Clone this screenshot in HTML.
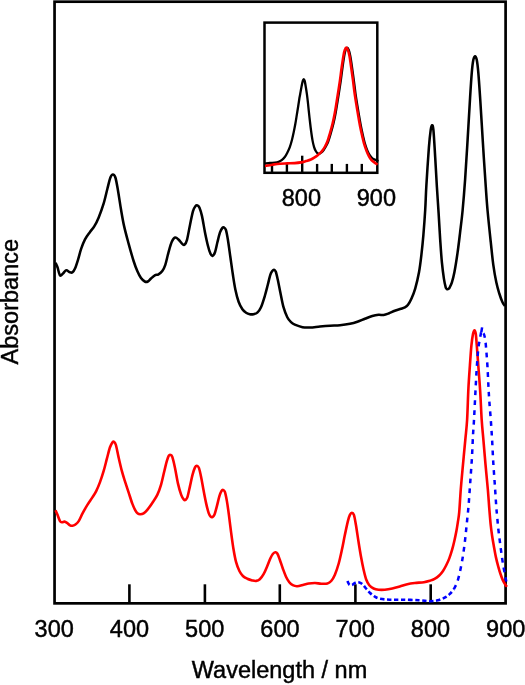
<!DOCTYPE html>
<html><head><meta charset="utf-8"><title>Absorbance spectra</title>
<style>
html,body{margin:0;padding:0;background:#fff;}
svg{display:block;}
text{font-family:"Liberation Sans",Arial,Helvetica,sans-serif;fill:#000;}
</style></head><body>
<svg width="525" height="685" viewBox="0 0 525 685">
<rect x="0" y="0" width="525" height="685" fill="#fff"/>
<g stroke="#000" stroke-width="2.6" fill="none"><line x1="129.40" y1="603.4" x2="129.40" y2="584.3"/><line x1="204.90" y1="603.4" x2="204.90" y2="584.3"/><line x1="279.80" y1="603.4" x2="279.80" y2="584.3"/><line x1="355.40" y1="603.4" x2="355.40" y2="584.3"/><line x1="430.70" y1="603.4" x2="430.70" y2="584.3"/></g>
<rect x="54.55" y="1.7" width="451.05" height="601.65" fill="none" stroke="#000" stroke-width="2.7"/>
<g fill="none" stroke-linejoin="round" stroke-linecap="butt">
<path d="M55.50 262.80C55.83 263.55 56.75 265.22 57.50 267.30C58.25 269.38 59.08 274.27 60.00 275.30C60.92 276.33 61.97 274.33 63.00 273.50C64.03 272.67 65.03 270.50 66.20 270.30C67.37 270.10 68.95 271.97 70.00 272.30C71.05 272.63 71.67 272.93 72.50 272.30C73.33 271.67 74.08 270.58 75.00 268.50C75.92 266.42 76.97 263.12 78.00 259.80C79.03 256.48 80.03 252.02 81.20 248.60C82.37 245.18 83.53 242.08 85.00 239.30C86.47 236.52 88.43 234.10 90.00 231.90C91.57 229.70 92.95 228.52 94.40 226.10C95.85 223.68 97.17 221.13 98.70 217.40C100.23 213.67 102.15 208.48 103.60 203.70C105.05 198.92 106.27 193.07 107.40 188.70C108.53 184.33 109.48 179.87 110.40 177.50C111.32 175.13 112.07 174.50 112.90 174.50C113.73 174.50 114.57 174.92 115.40 177.50C116.23 180.08 116.95 184.58 117.90 190.00C118.85 195.42 120.07 203.98 121.10 210.00C122.13 216.02 122.85 220.50 124.10 226.10C125.35 231.70 127.02 237.78 128.60 243.60C130.18 249.42 132.15 256.43 133.60 261.00C135.05 265.57 136.07 268.17 137.30 271.00C138.53 273.83 139.75 276.25 141.00 278.00C142.25 279.75 143.67 280.92 144.80 281.50C145.93 282.08 146.77 282.00 147.80 281.50C148.83 281.00 149.83 279.53 151.00 278.50C152.17 277.47 153.55 276.00 154.80 275.30C156.05 274.60 157.25 275.02 158.50 274.30C159.75 273.58 161.17 272.58 162.30 271.00C163.43 269.42 164.27 267.92 165.30 264.80C166.33 261.68 167.42 256.13 168.50 252.30C169.58 248.47 170.68 244.25 171.80 241.80C172.92 239.35 174.05 237.93 175.20 237.60C176.35 237.27 177.57 238.80 178.70 239.80C179.83 240.80 181.03 242.77 182.00 243.60C182.97 244.43 183.67 245.43 184.50 244.80C185.33 244.17 186.08 243.12 187.00 239.80C187.92 236.48 189.00 229.68 190.00 224.90C191.00 220.12 192.10 214.22 193.00 211.10C193.90 207.98 194.67 207.15 195.40 206.20C196.13 205.25 196.73 205.20 197.40 205.40C198.07 205.60 198.63 205.62 199.40 207.40C200.17 209.18 201.07 211.93 202.00 216.10C202.93 220.27 204.00 227.42 205.00 232.40C206.00 237.38 207.10 242.47 208.00 246.00C208.90 249.53 209.67 251.93 210.40 253.60C211.13 255.27 211.63 256.22 212.40 256.00C213.17 255.78 214.17 254.58 215.00 252.30C215.83 250.02 216.57 245.62 217.40 242.30C218.23 238.98 219.17 234.80 220.00 232.40C220.83 230.00 221.75 228.73 222.40 227.90C223.05 227.07 223.32 227.07 223.90 227.40C224.48 227.73 225.23 227.83 225.90 229.90C226.57 231.97 227.15 235.23 227.90 239.80C228.65 244.37 229.57 251.47 230.40 257.30C231.23 263.13 232.07 269.40 232.90 274.80C233.73 280.20 234.45 285.22 235.40 289.70C236.35 294.18 237.43 298.45 238.60 301.70C239.77 304.95 241.15 307.37 242.40 309.20C243.65 311.03 244.87 311.87 246.10 312.70C247.33 313.53 248.55 313.95 249.80 314.20C251.05 314.45 252.35 314.45 253.60 314.20C254.85 313.95 256.07 313.87 257.30 312.70C258.53 311.53 259.75 309.98 261.00 307.20C262.25 304.42 263.67 299.73 264.80 296.00C265.93 292.27 266.88 288.33 267.80 284.80C268.72 281.27 269.55 277.10 270.30 274.80C271.05 272.50 271.68 271.83 272.30 271.00C272.92 270.17 273.42 269.67 274.00 269.80C274.58 269.93 275.17 270.13 275.80 271.80C276.43 273.47 277.05 276.40 277.80 279.80C278.55 283.20 279.35 287.63 280.30 292.20C281.25 296.77 282.33 303.03 283.50 307.20C284.67 311.37 286.05 314.70 287.30 317.20C288.55 319.70 289.75 320.95 291.00 322.20C292.25 323.45 292.88 323.87 294.80 324.70C296.72 325.53 299.97 326.73 302.50 327.20C305.03 327.67 307.08 327.62 310.00 327.50C312.92 327.38 316.67 326.80 320.00 326.50C323.33 326.20 326.67 325.92 330.00 325.70C333.33 325.48 336.67 325.52 340.00 325.20C343.33 324.88 347.10 324.37 350.00 323.80C352.90 323.23 354.92 322.63 357.40 321.80C359.88 320.97 362.42 319.77 364.90 318.80C367.38 317.83 370.02 316.67 372.30 316.00C374.58 315.33 376.72 314.97 378.60 314.80C380.48 314.63 381.93 315.22 383.60 315.00C385.27 314.78 386.73 314.20 388.60 313.50C390.47 312.80 392.73 311.58 394.80 310.80C396.87 310.02 399.33 309.38 401.00 308.80C402.67 308.22 403.63 307.97 404.80 307.30C405.97 306.63 406.88 306.27 408.00 304.80C409.12 303.33 410.30 301.20 411.50 298.50C412.70 295.80 413.95 292.97 415.20 288.60C416.45 284.23 417.97 277.92 419.00 272.30C420.03 266.68 420.67 261.13 421.40 254.90C422.13 248.67 422.77 242.38 423.40 234.90C424.03 227.42 424.70 218.32 425.20 210.00C425.70 201.68 425.78 195.45 426.40 185.00C427.02 174.55 428.18 156.50 428.90 147.30C429.62 138.10 430.20 133.47 430.70 129.80C431.20 126.13 431.45 125.30 431.90 125.30C432.35 125.30 432.85 124.47 433.40 129.80C433.95 135.13 434.62 147.77 435.20 157.30C435.78 166.83 436.33 177.72 436.90 187.00C437.47 196.28 438.05 204.18 438.60 213.00C439.15 221.82 439.65 231.67 440.20 239.90C440.75 248.13 441.28 255.95 441.90 262.40C442.52 268.85 443.27 274.45 443.90 278.60C444.53 282.75 445.23 285.60 445.70 287.30C446.17 289.00 446.38 288.47 446.70 288.80C447.02 289.13 447.30 289.28 447.60 289.30C447.90 289.32 448.17 289.18 448.50 288.90C448.83 288.62 449.03 288.70 449.60 287.60C450.17 286.50 451.10 284.85 451.90 282.30C452.70 279.75 453.45 277.28 454.40 272.30C455.35 267.32 456.65 259.05 457.60 252.40C458.55 245.75 459.27 239.38 460.10 232.40C460.93 225.42 461.77 219.28 462.60 210.50C463.43 201.72 464.27 191.48 465.10 179.70C465.93 167.92 466.77 153.52 467.60 139.80C468.43 126.08 469.40 108.63 470.10 97.40C470.80 86.17 471.27 78.63 471.80 72.40C472.33 66.17 472.75 62.70 473.30 60.00C473.85 57.30 474.52 56.20 475.10 56.20C475.68 56.20 476.27 57.30 476.80 60.00C477.33 62.70 477.75 66.17 478.30 72.40C478.85 78.63 479.52 88.67 480.10 97.40C480.68 106.13 481.18 114.82 481.80 124.80C482.42 134.78 483.13 146.90 483.80 157.30C484.47 167.70 485.17 178.25 485.80 187.20C486.43 196.15 486.77 201.80 487.60 211.00C488.43 220.20 489.85 233.42 490.80 242.40C491.75 251.38 492.38 258.25 493.30 264.90C494.22 271.55 495.30 277.53 496.30 282.30C497.30 287.07 498.27 290.17 499.30 293.50C500.33 296.83 501.55 300.22 502.50 302.30C503.45 304.38 504.58 305.38 505.00 306.00" stroke="#000" stroke-width="2.55"/>
<path d="M55.50 510.30C55.83 511.05 56.75 513.00 57.50 514.80C58.25 516.60 59.25 519.85 60.00 521.10C60.75 522.35 61.25 522.22 62.00 522.30C62.75 522.38 63.67 521.52 64.50 521.60C65.33 521.68 66.08 522.18 67.00 522.80C67.92 523.42 69.08 524.80 70.00 525.30C70.92 525.80 71.67 525.88 72.50 525.80C73.33 525.72 73.97 525.58 75.00 524.80C76.03 524.02 77.47 522.97 78.70 521.10C79.93 519.23 80.95 516.30 82.40 513.60C83.85 510.90 85.73 507.60 87.40 504.90C89.07 502.20 90.93 499.70 92.40 497.40C93.87 495.10 94.95 493.60 96.20 491.10C97.45 488.60 98.67 485.72 99.90 482.40C101.13 479.08 102.43 475.15 103.60 471.20C104.77 467.25 105.85 462.65 106.90 458.70C107.95 454.75 108.98 450.20 109.90 447.50C110.82 444.80 111.73 443.47 112.40 442.50C113.07 441.53 113.32 441.28 113.90 441.70C114.48 442.12 115.12 442.38 115.90 445.00C116.68 447.62 117.60 453.03 118.60 457.40C119.60 461.77 120.85 467.25 121.90 471.20C122.95 475.15 123.78 477.57 124.90 481.10C126.02 484.63 127.37 488.65 128.60 492.40C129.83 496.15 131.18 500.62 132.30 503.60C133.42 506.58 134.38 508.63 135.30 510.30C136.22 511.97 136.97 512.93 137.80 513.60C138.63 514.27 139.33 514.35 140.30 514.30C141.27 514.25 142.43 514.05 143.60 513.30C144.77 512.55 145.85 511.53 147.30 509.80C148.75 508.07 150.63 505.38 152.30 502.90C153.97 500.42 155.85 497.90 157.30 494.90C158.75 491.90 159.83 488.85 161.00 484.90C162.17 480.95 163.33 475.15 164.30 471.20C165.27 467.25 166.05 463.78 166.80 461.20C167.55 458.62 168.18 456.75 168.80 455.70C169.42 454.65 169.92 454.70 170.50 454.90C171.08 455.10 171.55 454.73 172.30 456.90C173.05 459.07 174.05 463.45 175.00 467.90C175.95 472.35 176.97 479.10 178.00 483.60C179.03 488.10 180.25 492.27 181.20 494.90C182.15 497.53 182.98 498.57 183.70 499.40C184.42 500.23 184.87 500.32 185.50 499.90C186.13 499.48 186.75 499.20 187.50 496.90C188.25 494.60 189.17 489.77 190.00 486.10C190.83 482.43 191.67 478.02 192.50 474.90C193.33 471.78 194.27 468.93 195.00 467.40C195.73 465.87 196.25 465.62 196.90 465.70C197.55 465.78 198.18 465.95 198.90 467.90C199.62 469.85 200.40 473.53 201.20 477.40C202.00 481.27 202.87 486.73 203.70 491.10C204.53 495.47 205.37 499.93 206.20 503.60C207.03 507.27 207.95 510.93 208.70 513.10C209.45 515.27 210.08 515.93 210.70 516.60C211.32 517.27 211.78 517.40 212.40 517.10C213.02 516.80 213.65 516.63 214.40 514.80C215.15 512.97 216.07 509.22 216.90 506.10C217.73 502.98 218.65 498.60 219.40 496.10C220.15 493.60 220.78 492.13 221.40 491.10C222.02 490.07 222.52 489.77 223.10 489.90C223.68 490.03 224.27 490.03 224.90 491.90C225.53 493.77 226.23 497.28 226.90 501.10C227.57 504.92 228.20 509.60 228.90 514.80C229.60 520.00 230.32 526.47 231.10 532.30C231.88 538.13 232.77 544.82 233.60 549.80C234.43 554.78 235.13 558.67 236.10 562.20C237.07 565.73 238.27 568.70 239.40 571.00C240.53 573.30 241.58 574.72 242.90 576.00C244.22 577.28 245.73 577.97 247.30 578.70C248.87 579.43 250.83 580.03 252.30 580.40C253.77 580.77 254.85 581.10 256.10 580.90C257.35 580.70 258.55 580.32 259.80 579.20C261.05 578.08 262.35 576.40 263.60 574.20C264.85 572.00 266.18 568.62 267.30 566.00C268.42 563.38 269.38 560.50 270.30 558.50C271.22 556.50 271.97 555.03 272.80 554.00C273.63 552.97 274.55 552.38 275.30 552.30C276.05 552.22 276.55 552.27 277.30 553.50C278.05 554.73 278.88 557.20 279.80 559.70C280.72 562.20 281.77 565.67 282.80 568.50C283.83 571.33 284.92 574.42 286.00 576.70C287.08 578.98 288.17 580.78 289.30 582.20C290.43 583.62 291.48 584.53 292.80 585.20C294.12 585.87 295.38 586.28 297.20 586.20C299.02 586.12 301.78 585.15 303.70 584.70C305.62 584.25 306.82 583.78 308.70 583.50C310.58 583.22 312.92 582.97 315.00 583.00C317.08 583.03 319.13 583.62 321.20 583.70C323.27 583.78 325.73 583.95 327.40 583.50C329.07 583.05 329.95 582.47 331.20 581.00C332.45 579.53 333.65 577.62 334.90 574.70C336.15 571.78 337.53 567.65 338.70 563.50C339.87 559.35 340.87 554.58 341.90 549.80C342.93 545.02 343.90 539.58 344.90 534.80C345.90 530.02 347.07 524.42 347.90 521.10C348.73 517.78 349.23 516.27 349.90 514.90C350.57 513.53 351.23 512.90 351.90 512.90C352.57 512.90 353.23 512.92 353.90 514.90C354.57 516.88 355.12 520.23 355.90 524.80C356.68 529.37 357.73 536.88 358.60 542.30C359.47 547.72 360.27 552.73 361.10 557.30C361.93 561.87 362.77 566.05 363.60 569.70C364.43 573.35 365.15 576.62 366.10 579.20C367.05 581.78 368.05 583.65 369.30 585.20C370.55 586.75 372.05 587.75 373.60 588.50C375.15 589.25 376.73 589.50 378.60 589.70C380.47 589.90 382.52 589.90 384.80 589.70C387.08 589.50 389.80 589.03 392.30 588.50C394.80 587.97 397.30 587.22 399.80 586.50C402.30 585.78 404.80 584.78 407.30 584.20C409.80 583.62 412.03 583.33 414.80 583.00C417.57 582.67 421.37 582.58 423.90 582.20C426.43 581.82 428.22 581.25 430.00 580.70C431.78 580.15 433.07 579.77 434.60 578.90C436.13 578.03 437.80 576.83 439.20 575.50C440.60 574.17 441.85 572.57 443.00 570.90C444.15 569.23 445.07 567.55 446.10 565.50C447.13 563.45 448.18 561.28 449.20 558.60C450.22 555.92 451.32 552.47 452.20 549.40C453.08 546.33 453.80 543.25 454.50 540.20C455.20 537.15 455.85 534.05 456.40 531.10C456.95 528.15 457.33 525.62 457.80 522.50C458.27 519.38 458.70 517.98 459.20 512.40C459.70 506.82 460.17 497.00 460.80 489.00C461.43 481.00 462.25 472.58 463.00 464.40C463.75 456.22 464.62 447.30 465.30 439.90C465.98 432.50 466.58 428.55 467.10 420.00C467.62 411.45 467.93 397.67 468.40 388.60C468.87 379.53 469.40 372.75 469.90 365.60C470.40 358.45 470.88 350.97 471.40 345.70C471.92 340.43 472.48 336.57 473.00 334.00C473.52 331.43 474.03 330.30 474.50 330.30C474.97 330.30 475.42 331.43 475.80 334.00C476.18 336.57 476.38 340.43 476.80 345.70C477.22 350.97 477.73 357.95 478.30 365.60C478.87 373.25 479.63 382.53 480.20 391.60C480.77 400.67 481.17 411.95 481.70 420.00C482.23 428.05 482.77 432.50 483.40 439.90C484.03 447.30 484.77 456.22 485.50 464.40C486.23 472.58 487.15 481.40 487.80 489.00C488.45 496.60 488.92 504.02 489.40 510.00C489.88 515.98 490.25 520.62 490.70 524.90C491.15 529.18 491.57 532.12 492.10 535.70C492.63 539.28 493.27 542.83 493.90 546.40C494.53 549.97 495.18 553.78 495.90 557.10C496.62 560.42 497.43 563.48 498.20 566.30C498.97 569.12 499.73 571.70 500.50 574.00C501.27 576.30 501.98 578.32 502.80 580.10C503.62 581.88 504.70 583.58 505.40 584.70C506.10 585.82 506.73 586.45 507.00 586.80" stroke="#ff0000" stroke-width="2.6"/>
<path d="M347.40 581.00C347.73 581.62 348.63 584.03 349.40 584.70C350.17 585.37 351.00 585.33 352.00 585.00C353.00 584.67 354.30 583.17 355.40 582.70C356.50 582.23 357.43 581.95 358.60 582.20C359.77 582.45 361.15 583.15 362.40 584.20C363.65 585.25 364.87 587.08 366.10 588.50C367.33 589.92 368.35 591.33 369.80 592.70C371.25 594.07 373.13 595.70 374.80 596.70C376.47 597.70 377.30 598.20 379.80 598.70C382.30 599.20 386.05 599.53 389.80 599.70C393.55 599.87 397.43 599.62 402.30 599.70C407.17 599.78 414.38 599.95 419.00 600.20C423.62 600.45 426.88 601.18 430.00 601.20C433.12 601.22 435.27 600.88 437.70 600.30C440.13 599.72 442.57 598.77 444.60 597.70C446.63 596.63 448.37 595.30 449.90 593.90C451.43 592.50 453.15 590.07 453.80 589.30" stroke="#0000ff" stroke-width="2.6" stroke-dasharray="4.4 2.6"/>
<path d="M453.80 589.30C454.30 588.28 455.92 585.50 456.80 583.20C457.68 580.90 458.38 578.32 459.10 575.50C459.82 572.68 460.45 569.62 461.10 566.30C461.75 562.98 462.43 559.18 463.00 555.60C463.57 552.02 464.05 548.38 464.50 544.80C464.95 541.22 465.32 537.67 465.70 534.10C466.08 530.53 466.43 526.97 466.80 523.40C467.17 519.83 467.57 516.13 467.90 512.70C468.23 509.27 468.40 508.03 468.80 502.80C469.20 497.57 469.78 488.72 470.30 481.30C470.82 473.88 471.45 465.97 471.90 458.30C472.35 450.63 472.65 441.68 473.00 435.30C473.35 428.92 473.57 427.78 474.00 420.00C474.43 412.22 475.13 397.42 475.60 388.60C476.07 379.78 476.35 373.75 476.80 367.10C477.25 360.45 477.85 353.05 478.30 348.70C478.75 344.35 479.12 343.30 479.50 341.00C479.88 338.70 480.17 337.18 480.60 334.90C481.03 332.62 482.00 327.37 482.10 327.30C482.20 327.23 480.97 333.47 481.20 334.50C481.43 335.53 482.83 332.67 483.50 333.50C484.17 334.33 484.72 336.45 485.20 339.50C485.68 342.55 486.02 347.20 486.40 351.80C486.78 356.40 487.17 361.48 487.50 367.10C487.83 372.72 488.10 379.88 488.40 385.50C488.70 391.12 488.90 395.05 489.30 400.80C489.70 406.55 490.33 413.48 490.80 420.00C491.27 426.52 491.68 432.75 492.10 439.90C492.52 447.05 492.83 455.23 493.30 462.90C493.77 470.57 494.40 478.55 494.90 485.90C495.40 493.25 495.93 502.03 496.30 507.00C496.67 511.97 496.78 512.20 497.10 515.70C497.42 519.20 497.77 523.92 498.20 528.00C498.63 532.08 499.18 536.12 499.70 540.20C500.22 544.28 500.73 548.40 501.30 552.50C501.87 556.60 502.47 560.97 503.10 564.80C503.73 568.63 504.57 572.70 505.10 575.50C505.63 578.30 506.10 580.58 506.30 581.60" stroke="#0000ff" stroke-width="2.5" stroke-dasharray="4.7 5.1"/>
</g>
<g stroke="#000" stroke-width="2.4" fill="none"><line x1="272.00" y1="172.8" x2="272.00" y2="163.9"/><line x1="286.90" y1="172.8" x2="286.90" y2="163.9"/><line x1="317.10" y1="172.8" x2="317.10" y2="163.9"/><line x1="331.80" y1="172.8" x2="331.80" y2="163.9"/><line x1="346.90" y1="172.8" x2="346.90" y2="163.9"/><line x1="361.80" y1="172.8" x2="361.80" y2="163.9"/><line x1="302.20" y1="172.8" x2="302.20" y2="155.7"/></g>
<rect x="264.5" y="22.6" width="112.8" height="150.2" fill="none" stroke="#000" stroke-width="2.5"/>
<g fill="none" stroke-linejoin="round">
<path d="M265.00 163.60C265.82 163.50 268.25 163.17 269.90 163.00C271.55 162.83 273.45 162.80 274.90 162.60C276.35 162.40 277.47 162.22 278.60 161.80C279.73 161.38 280.67 160.90 281.70 160.10C282.73 159.30 283.87 158.23 284.80 157.00C285.73 155.77 286.47 154.35 287.30 152.70C288.13 151.05 289.02 149.27 289.80 147.10C290.58 144.93 291.35 142.18 292.00 139.70C292.65 137.22 293.13 134.90 293.70 132.20C294.27 129.50 294.88 126.38 295.40 123.50C295.92 120.62 296.33 117.78 296.80 114.90C297.27 112.02 297.78 108.85 298.20 106.20C298.62 103.55 298.97 101.03 299.30 99.00C299.63 96.97 299.82 96.13 300.20 94.00C300.58 91.87 301.17 88.38 301.60 86.20C302.03 84.02 302.45 82.07 302.80 80.90C303.15 79.73 303.38 79.20 303.70 79.20C304.02 79.20 304.33 79.52 304.70 80.90C305.07 82.28 305.52 85.17 305.90 87.50C306.28 89.83 306.67 92.42 307.00 94.90C307.33 97.38 307.60 99.70 307.90 102.40C308.20 105.10 308.47 107.98 308.80 111.10C309.13 114.22 309.52 117.78 309.90 121.10C310.28 124.42 310.65 127.70 311.10 131.00C311.55 134.30 312.10 138.22 312.60 140.90C313.10 143.58 313.60 145.45 314.10 147.10C314.60 148.75 315.07 149.80 315.60 150.80C316.13 151.80 316.68 152.62 317.30 153.10C317.92 153.58 318.60 153.83 319.30 153.70C320.00 153.57 321.13 152.53 321.50 152.30" stroke="#000" stroke-width="2.3"/>
<path d="M321.45 152.60C321.82 152.17 322.92 151.02 323.65 150.00C324.38 148.98 325.08 147.92 325.85 146.50C326.62 145.08 327.43 143.67 328.25 141.50C329.07 139.33 329.88 136.50 330.75 133.50C331.62 130.50 332.62 127.00 333.45 123.50C334.28 120.00 335.07 116.17 335.75 112.50C336.43 108.83 337.00 104.92 337.55 101.50C338.10 98.08 338.52 95.43 339.05 92.00C339.58 88.57 340.17 85.02 340.75 80.90C341.33 76.78 341.93 71.63 342.55 67.30C343.17 62.97 343.93 57.80 344.45 54.90C344.97 52.00 345.20 51.12 345.65 49.90C346.10 48.68 346.63 47.60 347.15 47.60C347.67 47.60 348.22 48.48 348.75 49.90C349.28 51.32 349.83 53.42 350.35 56.10C350.87 58.78 351.28 62.07 351.85 66.00C352.42 69.93 353.13 75.07 353.75 79.70C354.37 84.33 354.93 89.42 355.55 93.80C356.17 98.18 356.83 102.17 357.45 106.00C358.07 109.83 358.63 113.25 359.25 116.80C359.87 120.35 360.52 124.12 361.15 127.30C361.78 130.48 362.43 133.22 363.05 135.90C363.67 138.58 364.12 140.94 364.85 143.40C365.58 145.86 366.56 148.63 367.40 150.64C368.24 152.66 369.07 154.18 369.90 155.47C370.73 156.76 371.47 157.65 372.40 158.39C373.33 159.14 374.48 159.50 375.50 159.93C376.52 160.37 378.00 160.82 378.50 161.00" stroke="#000" stroke-width="2.3"/>
<path d="M265.00 166.00C266.23 165.78 269.92 165.08 272.40 164.70C274.88 164.32 277.42 163.92 279.90 163.70C282.38 163.48 284.83 163.50 287.30 163.40C289.77 163.30 292.43 163.27 294.70 163.10C296.97 162.93 299.03 162.73 300.90 162.40C302.77 162.07 304.23 161.58 305.90 161.10C307.57 160.62 309.45 160.12 310.90 159.50C312.35 158.88 313.47 158.12 314.60 157.40C315.73 156.68 316.70 156.00 317.70 155.20C318.70 154.40 319.75 153.47 320.60 152.60C321.45 151.73 322.07 151.02 322.80 150.00C323.53 148.98 324.23 147.92 325.00 146.50C325.77 145.08 326.58 143.67 327.40 141.50C328.22 139.33 329.03 136.50 329.90 133.50C330.77 130.50 331.77 127.00 332.60 123.50C333.43 120.00 334.22 116.17 334.90 112.50C335.58 108.83 336.15 104.92 336.70 101.50C337.25 98.08 337.67 95.43 338.20 92.00C338.73 88.57 339.32 85.02 339.90 80.90C340.48 76.78 341.08 71.63 341.70 67.30C342.32 62.97 343.08 57.80 343.60 54.90C344.12 52.00 344.35 51.12 344.80 49.90C345.25 48.68 345.78 47.60 346.30 47.60C346.82 47.60 347.37 48.48 347.90 49.90C348.43 51.32 348.98 53.42 349.50 56.10C350.02 58.78 350.43 62.07 351.00 66.00C351.57 69.93 352.28 75.07 352.90 79.70C353.52 84.33 354.08 89.42 354.70 93.80C355.32 98.18 355.98 102.17 356.60 106.00C357.22 109.83 357.78 113.25 358.40 116.80C359.02 120.35 359.67 124.12 360.30 127.30C360.93 130.48 361.58 133.22 362.20 135.90C362.82 138.58 363.28 140.92 364.00 143.40C364.72 145.88 365.67 148.63 366.50 150.80C367.33 152.97 368.17 154.85 369.00 156.40C369.83 157.95 370.57 159.07 371.50 160.10C372.43 161.13 373.58 161.85 374.60 162.60C375.62 163.35 377.10 164.27 377.60 164.60" stroke="#ff0000" stroke-width="2.6"/>
</g>


<g font-size="23.5" text-anchor="middle" stroke="#000" stroke-width="0.45"><text x="54.20" y="637">300</text><text x="129.45" y="637">400</text><text x="204.70" y="637">500</text><text x="279.95" y="637">600</text><text x="355.20" y="637">700</text><text x="430.45" y="637">800</text><text x="505.70" y="637">900</text>
<text x="301.4" y="205.6">800</text><text x="376.4" y="205.6">900</text>
<text x="279.5" y="678.3">Wavelength / nm</text>
<text transform="translate(18.2 301.7) rotate(-90)" x="0" y="0">Absorbance</text>
</g>
</svg>
</body></html>
